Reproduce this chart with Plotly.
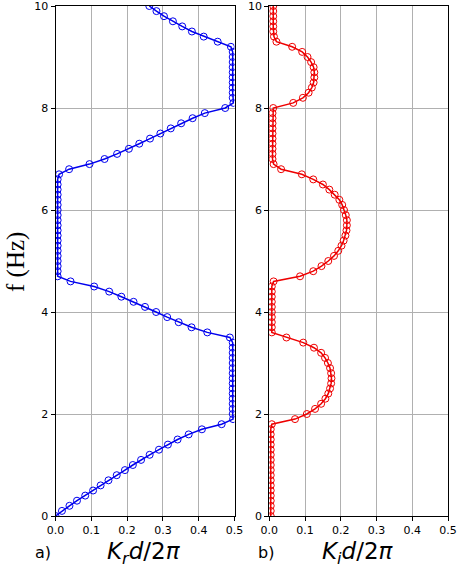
import plotly.graph_objects as go

# Frequency samples (Hz)
freq = [0.0, 0.1, 0.2, 0.3, 0.4, 0.5, 0.6, 0.7, 0.8, 0.9,
        1.0, 1.1, 1.2, 1.3, 1.4, 1.5, 1.6, 1.7, 1.8, 1.9,
        2.0, 2.1, 2.2, 2.3, 2.4, 2.5, 2.6, 2.7, 2.8, 2.9,
        3.0, 3.1, 3.2, 3.3, 3.4, 3.5, 3.6, 3.7, 3.8, 3.9,
        4.0, 4.1, 4.2, 4.3, 4.4, 4.5, 4.6, 4.7, 4.8, 4.9,
        5.0, 5.1, 5.2, 5.3, 5.4, 5.5, 5.6, 5.7, 5.8, 5.9,
        6.0, 6.1, 6.2, 6.3, 6.4, 6.5, 6.6, 6.7, 6.8, 6.9,
        7.0, 7.1, 7.2, 7.3, 7.4, 7.5, 7.6, 7.7, 7.8, 7.9,
        8.0, 8.1, 8.2, 8.3, 8.4, 8.5, 8.6, 8.7, 8.8, 8.9,
        9.0, 9.1, 9.2, 9.3, 9.4, 9.5, 9.6, 9.7, 9.8, 9.9,
        10.0]

# Real part of normalized wavenumber  K_r d / 2pi
kr = [0.000, 0.018, 0.039, 0.060, 0.083, 0.105, 0.126, 0.148, 0.171, 0.194,
      0.216, 0.239, 0.263, 0.289, 0.314, 0.341, 0.372, 0.409, 0.464, 0.496,
      0.495, 0.495, 0.495, 0.495, 0.495, 0.495, 0.495, 0.495, 0.495, 0.495,
      0.495, 0.495, 0.495, 0.495, 0.495, 0.487, 0.424, 0.380, 0.344, 0.312,
      0.281, 0.250, 0.218, 0.184, 0.150, 0.108, 0.042, 0.006, 0.006, 0.006,
      0.006, 0.006, 0.006, 0.006, 0.006, 0.006, 0.006, 0.006, 0.006, 0.006,
      0.006, 0.006, 0.006, 0.006, 0.006, 0.006, 0.006, 0.010, 0.038, 0.095,
      0.137, 0.172, 0.205, 0.234, 0.264, 0.293, 0.322, 0.351, 0.383, 0.417,
      0.474, 0.497, 0.495, 0.495, 0.495, 0.495, 0.495, 0.495, 0.495, 0.495,
      0.495, 0.495, 0.490, 0.453, 0.414, 0.381, 0.354, 0.328, 0.303, 0.282,
      0.262]

# Imaginary part of normalized wavenumber  K_i d / 2pi
ki = [0.004, 0.004, 0.004, 0.004, 0.004, 0.004, 0.004, 0.004, 0.004, 0.004,
      0.004, 0.004, 0.004, 0.004, 0.004, 0.004, 0.004, 0.004, 0.007, 0.072,
      0.105, 0.128, 0.145, 0.157, 0.165, 0.170, 0.173, 0.174, 0.173, 0.170,
      0.164, 0.156, 0.145, 0.125, 0.095, 0.048, 0.007, 0.007, 0.007, 0.007,
      0.007, 0.007, 0.007, 0.007, 0.007, 0.007, 0.012, 0.086, 0.123, 0.146,
      0.165, 0.181, 0.193, 0.202, 0.208, 0.213, 0.216, 0.217, 0.217, 0.214,
      0.209, 0.204, 0.196, 0.183, 0.168, 0.150, 0.123, 0.091, 0.033, 0.012,
      0.009, 0.009, 0.009, 0.009, 0.009, 0.009, 0.009, 0.009, 0.009, 0.009,
      0.011, 0.067, 0.094, 0.110, 0.119, 0.124, 0.126, 0.126, 0.124, 0.117,
      0.107, 0.092, 0.064, 0.020, 0.013, 0.011, 0.011, 0.011, 0.011, 0.011,
      0.011]

x_ticks = [0.0, 0.1, 0.2, 0.3, 0.4, 0.5]
y_ticks = [0, 2, 4, 6, 8, 10]

W, H = 474, 586

fig = go.Figure()
fig.add_trace(go.Scatter(
    x=kr, y=freq, xaxis="x", yaxis="y", mode="lines+markers",
    line=dict(color="#0000ee", width=1.5),
    marker=dict(symbol="circle-open", size=7, color="#0000ee", line=dict(width=1)),
    cliponaxis=True, showlegend=False))
fig.add_trace(go.Scatter(
    x=ki, y=freq, xaxis="x2", yaxis="y2", mode="lines+markers",
    line=dict(color="#ee0000", width=1.5),
    marker=dict(symbol="circle-open", size=7, color="#ee0000", line=dict(width=1)),
    cliponaxis=True, showlegend=False))

axcommon = dict(
    showline=True, linecolor="black", linewidth=1, mirror=True,
    showgrid=True, gridcolor="#b0b0b0", gridwidth=0.8,
    ticks="outside", ticklen=4, tickcolor="black", tickwidth=1,
    zeroline=False, automargin=False, ticklabeloverflow="allow",
    tickfont=dict(family="DejaVu Sans", size=11, color="black"),
)


def label(text, x, y, size, family="DejaVu Sans", angle=0):
    return dict(text=text, x=x / W, y=1 - y / H, xref="paper", yref="paper",
                xanchor="center", yanchor="middle", textangle=angle,
                showarrow=False, font=dict(family=family, size=size, color="black"))


fig.update_layout(
    width=W, height=H,
    margin=dict(l=0, r=0, t=0, b=0, pad=0),
    paper_bgcolor="white", plot_bgcolor="white",
    xaxis=dict(domain=[55.5 / W, 234.5 / W], range=[0, 0.5], tickvals=x_ticks,
               ticktext=[f"{v:.1f}" for v in x_ticks], anchor="y", **axcommon),
    yaxis=dict(domain=[70 / H, 580 / H], range=[0, 10], tickvals=y_ticks,
               anchor="x", **axcommon),
    xaxis2=dict(domain=[269.3 / W, 448 / W], range=[0, 0.5], tickvals=x_ticks,
                ticktext=[f"{v:.1f}" for v in x_ticks], anchor="y2", **axcommon),
    yaxis2=dict(domain=[70 / H, 580 / H], range=[0, 10], tickvals=y_ticks,
                anchor="x2", **axcommon),
    annotations=[
        label("f (Hz)", 16, 262, 25, family="Liberation Serif", angle=-90),
        label("a)", 43, 552, 16),
        label("<i>K</i><sub><i>r</i></sub><i>d</i>/2<i>π</i>", 144, 553, 23),
        label("b)", 266, 552, 16),
        label("<i>K</i><sub><i>i</i></sub><i>d</i>/2<i>π</i>", 358, 553, 23),
    ],
)

fig.write_html("out.html", config={"displayModeBar": False},
               post_script="document.body.style.margin='0';document.body.style.padding='0';")
